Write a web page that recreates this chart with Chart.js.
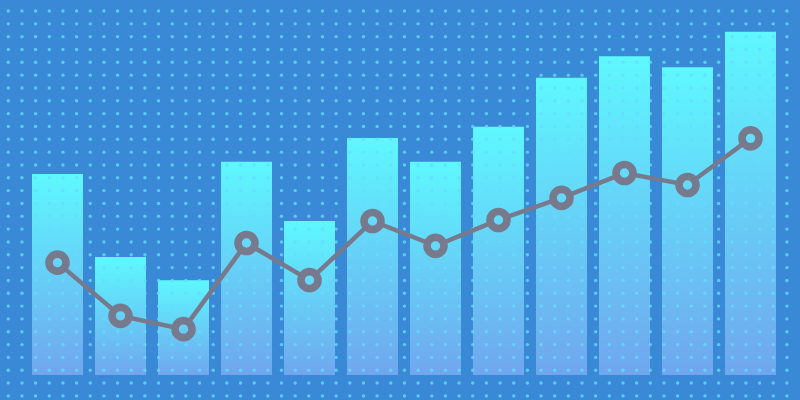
<!DOCTYPE html>
<html>
<head>
<meta charset="utf-8">
<script src="https://cdn.jsdelivr.net/npm/chart.js@4"></script>
<style>
  html, body { margin: 0; padding: 0; background: #3a8cd8; }
  #wrap { width: 800px; height: 400px; }
</style>
</head>
<body>
<div id="wrap"><canvas id="chart"></canvas></div>
<script>
// values (scale 0-100)
const categories = ["1", "2", "3", "4", "5", "6", "7", "8", "9", "10", "11", "12"];
const barValues = [57.4, 33.7, 27.1, 60.9, 44, 67.7, 60.9, 70.9, 84.9, 91.1, 87.9, 98.1];
const lineValues = [32.1, 16.9, 13.1, 37.7, 27.1, 44, 36.9, 44.3, 50.6, 57.7, 54.3, 67.6];

// background + dotted pattern
const dotsPlugin = {
  id: "dots",
  beforeDraw(chart) {
    const ctx = chart.ctx;
    ctx.save();
    ctx.fillStyle = "#3989d6";
    ctx.fillRect(0, 0, chart.width, chart.height);
    ctx.restore();
  },
  afterDatasetDraw(chart, args) {
    if (args.meta.type !== "bar") return;
    const ctx = chart.ctx;
    ctx.save();
    ctx.fillStyle = "rgba(100,220,255,0.8)";
    for (let y = 11; y < chart.height; y += 12.83) {
      for (let x = 8.3; x < chart.width; x += 13.66) {
        ctx.beginPath();
        ctx.arc(x, y, 1.7, 0, Math.PI * 2);
        ctx.fill();
      }
    }
    ctx.restore();
  },
};

// per-bar gradient, cyan at the top of each bar to lavender-blue at the base
function gradientFor(chart, index) {
  const yScale = chart.scales.y;
  const top = yScale.getPixelForValue(barValues[index]);
  const bottom = yScale.getPixelForValue(0);
  const g = chart.ctx.createLinearGradient(0, top, 0, bottom);
  g.addColorStop(0, "#5ef8ff");
  g.addColorStop(1, "#70a6ee");
  return g;
}

function barGradient(context) {
  if (!context.chart.chartArea) return "#5ef6ff";
  return gradientFor(context.chart, context.dataIndex);
}

new Chart(document.getElementById("chart"), {
  data: {
    labels: categories,
    datasets: [
      {
        type: "line",
        data: lineValues,
        order: 0,
        borderColor: "#777a8c",
        borderWidth: 4.5,
        pointRadius: 8.5,
        pointHoverRadius: 8.5,
        pointBorderWidth: 7.6,
        pointBorderColor: "#777a8c",
        pointBackgroundColor: barGradient,
        tension: 0,
      },
      {
        type: "bar",
        data: barValues,
        order: 1,
        backgroundColor: barGradient,
        borderWidth: 0,
        categoryPercentage: 1,
        barPercentage: 0.81,
      },
    ],
  },
  options: {
    responsive: true,
    maintainAspectRatio: false,
    animation: false,
    layout: { padding: { left: 26, right: 18, top: 25, bottom: 25 } },
    plugins: { legend: { display: false }, tooltip: { enabled: false } },
    scales: {
      x: { display: false },
      y: { display: false, min: 0, max: 100 },
    },
  },
  plugins: [dotsPlugin],
});
</script>
</body>
</html>
